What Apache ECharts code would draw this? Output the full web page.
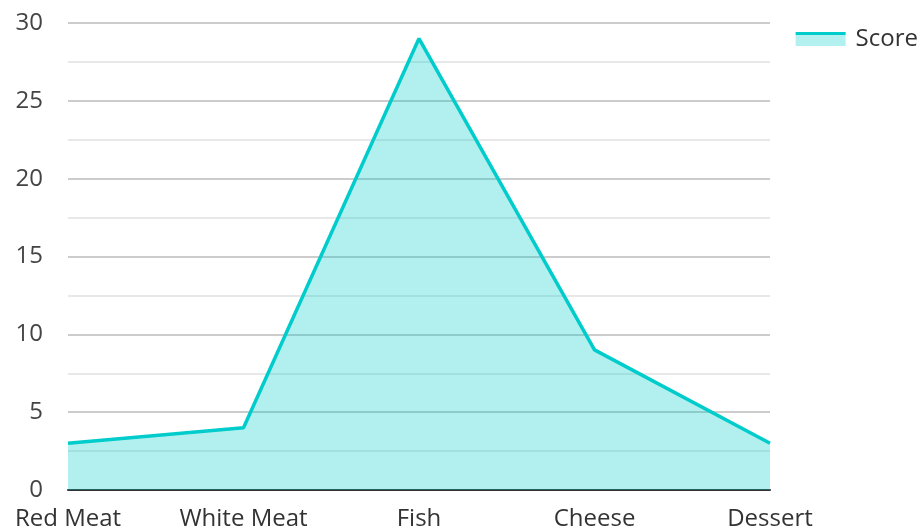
<!DOCTYPE html>
<html>
<head>
<meta charset="utf-8">
<script src="https://cdn.jsdelivr.net/npm/echarts@6/dist/echarts.min.js"></script>
<style>
  html, body { margin: 0; padding: 0; background: #fff; }
  #chart { width: 920px; height: 531px; }
</style>
</head>
<body>
<div id="chart"></div>
<script>
// Food categories and their scores
const categories = ['Red Meat', 'White Meat', 'Fish', 'Cheese', 'Dessert'];
const scores = [3, 4, 29, 9, 3];
const seriesName = 'Score';

const lineColor = '#00cccc';
const fontFamily = '"Open Sans", "Noto Sans", sans-serif';

const chart = echarts.init(document.getElementById('chart'), null, { renderer: 'canvas' });

chart.setOption({
  animation: false,
  textStyle: { fontFamily: fontFamily },
  grid: { left: 68, right: 150, top: 23, bottom: 41, containLabel: false },
  legend: {
    data: [seriesName],
    right: 2,
    top: 27,
    padding: 0,
    icon: 'rect',
    itemWidth: 50,
    itemHeight: 14,
    itemGap: 10,
    textStyle: { fontSize: 24, color: '#333', fontFamily: fontFamily, padding: [0, 0, 4, 5] },
    itemStyle: {
      color: {
        type: 'linear', x: 0, y: 0, x2: 0, y2: 1,
        colorStops: [
          { offset: 0, color: lineColor },
          { offset: 0.22, color: lineColor },
          { offset: 0.22, color: '#b3f0f0' },
          { offset: 1, color: '#b3f0f0' }
        ]
      }
    }
  },
  xAxis: {
    type: 'category',
    data: categories,
    boundaryGap: false,
    axisLine: { show: true, lineStyle: { color: '#333', width: 2 } },
    axisTick: { show: false },
    axisLabel: { fontSize: 24, color: '#333', margin: 17, fontFamily: fontFamily },
    splitLine: { show: false }
  },
  yAxis: {
    type: 'value',
    min: 0,
    max: 30,
    interval: 5,
    axisLine: { show: false },
    axisTick: { show: false },
    axisLabel: { fontSize: 24, color: '#444', margin: 25, fontFamily: fontFamily },
    splitLine: { show: true, lineStyle: { color: '#cccccc', width: 2 } },
    minorTick: { show: false, splitNumber: 2 },
    minorSplitLine: { show: true, lineStyle: { color: '#e8e8e8', width: 2 } }
  },
  series: [{
    name: seriesName,
    type: 'line',
    data: scores,
    symbol: 'none',
    lineStyle: { color: lineColor, width: 3.5 },
    itemStyle: { color: lineColor },
    areaStyle: { color: lineColor, opacity: 0.3 }
  }]
});
</script>
</body>
</html>
